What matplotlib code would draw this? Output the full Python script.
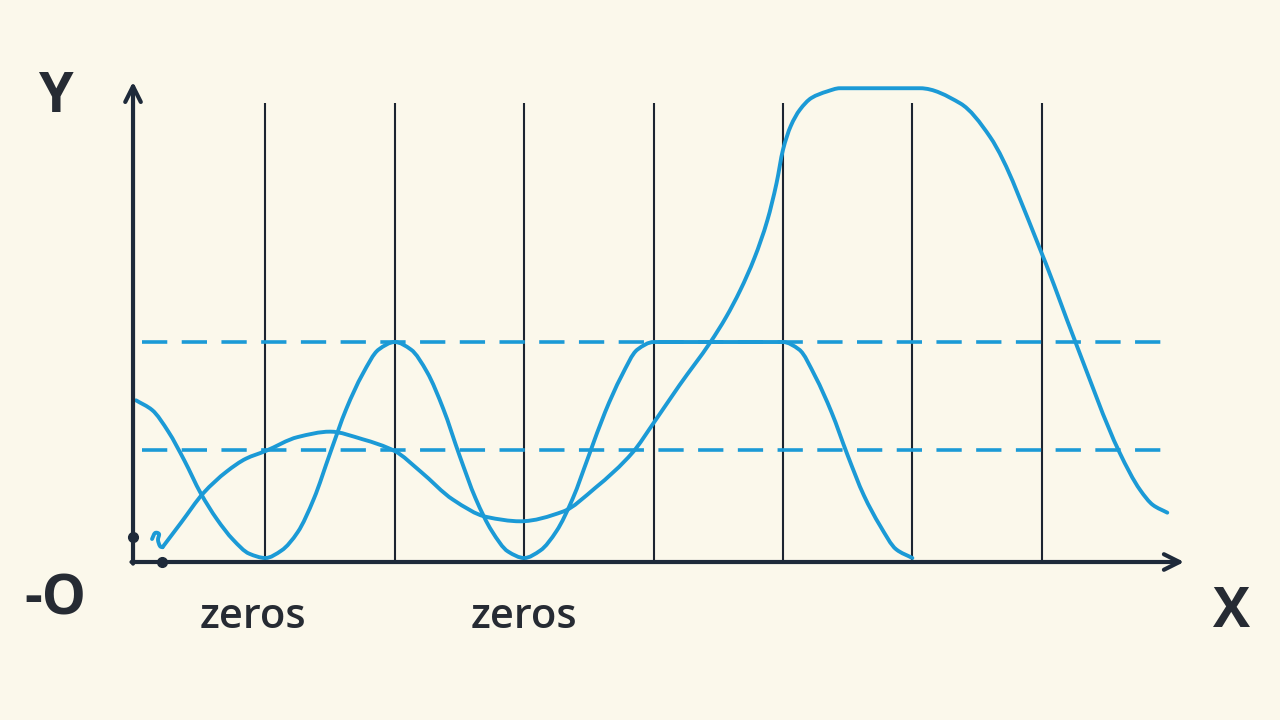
import numpy as np
import matplotlib.pyplot as plt
from matplotlib.path import Path
from matplotlib.patches import PathPatch

# -----------------------------
# Data (x: one unit per vertical guide, y: one unit per dashed level)
# -----------------------------
GUIDE_X = [1, 2, 3, 4, 5, 6, 7]
LEVELS = [1.0, 2.0]

# curve that touches zero at the guides
curve_a_x = [0.0, 0.125, 0.25, 0.375, 0.5, 0.625, 0.75, 0.875, 1.0,
             1.125, 1.25, 1.375, 1.5, 1.625, 1.75, 1.875, 2.0,
             2.125, 2.25, 2.375, 2.5, 2.625, 2.75, 2.875, 3.0,
             3.125, 3.25, 3.375, 3.5, 3.625, 3.75, 3.875, 4.0,
             4.5, 5.0,
             5.125, 5.25, 5.375, 5.5, 5.625, 5.75, 5.875, 6.0]
curve_a_y = [1.46, 1.37, 1.17, 0.90, 0.60, 0.36, 0.17, 0.04, 0.0,
             0.07, 0.24, 0.55, 0.97, 1.38, 1.70, 1.93, 2.0,
             1.93, 1.72, 1.38, 0.95, 0.55, 0.25, 0.06, 0.0,
             0.07, 0.25, 0.55, 0.95, 1.35, 1.68, 1.93, 2.0,
             2.0, 2.0,
             1.93, 1.68, 1.35, 0.95, 0.58, 0.30, 0.08, 0.0]

# little hook where the wide curve starts
hook_x = [0.124, 0.147, 0.178, 0.170, 0.185, 0.205]
hook_y = [0.176, 0.231, 0.222, 0.167, 0.111, 0.100]

# wide curve with the high plateau
curve_b_x = [0.205, 0.35, 0.52, 0.70, 0.85, 1.0,
             1.25, 1.5, 1.75, 2.0, 2.2, 2.45, 2.71, 2.97, 3.3, 3.55, 3.84,
             4.0, 4.2, 4.44, 4.56, 4.67, 4.78, 4.88, 4.95, 5.0, 5.06, 5.13,
             5.22, 5.34, 5.44,
             6.06, 6.37, 6.6, 7.0, 7.26, 7.6, 7.76, 7.86, 7.97]
curve_b_y = [0.100, 0.33, 0.60, 0.80, 0.92, 0.99,
             1.12, 1.17, 1.10, 0.99, 0.80, 0.54, 0.38, 0.34, 0.43, 0.65, 0.98,
             1.25, 1.60, 2.0, 2.23, 2.48, 2.78, 3.13, 3.47, 3.78, 4.0, 4.15,
             4.26, 4.32, 4.35,
             4.35, 4.21, 3.90, 2.82, 2.0, 0.98, 0.63, 0.49, 0.42]

ZERO_LABELS = ["zeros", "zeros"]
ZERO_LABEL_X = [0.904, 2.998]

# -----------------------------
# Style
# -----------------------------
BG = "#fbf8eb"
DARK = "#1e2a3a"
BLUE = "#1b9ad6"
TEXT = "#262b33"


def pchip_path(xs, ys):
    # monotone cubic through y(x), drawn as bezier segments
    x = np.asarray(xs, float)
    y = np.asarray(ys, float)
    h = np.diff(x)
    d = np.diff(y) / h
    m = np.zeros_like(y)
    m[0], m[-1] = d[0], d[-1]
    for k in range(1, len(x) - 1):
        if d[k - 1] * d[k] <= 0:
            m[k] = 0.0
        else:
            w1 = 2 * h[k] + h[k - 1]
            w2 = h[k] + 2 * h[k - 1]
            m[k] = (w1 + w2) / (w1 / d[k - 1] + w2 / d[k])
    verts = [(x[0], y[0])]
    codes = [Path.MOVETO]
    for k in range(len(x) - 1):
        verts += [(x[k] + h[k] / 3, y[k] + m[k] * h[k] / 3),
                  (x[k + 1] - h[k] / 3, y[k + 1] - m[k + 1] * h[k] / 3),
                  (x[k + 1], y[k + 1])]
        codes += [Path.CURVE4] * 3
    return Path(verts, codes)


def catmull_path(xs, ys):
    pts = np.column_stack([xs, ys]).astype(float)
    n = len(pts)
    verts = [pts[0]]
    codes = [Path.MOVETO]
    for i in range(n - 1):
        p0 = pts[i - 1] if i > 0 else pts[i]
        p1, p2 = pts[i], pts[i + 1]
        p3 = pts[i + 2] if i + 2 < n else pts[i + 1]
        verts += [p1 + (p2 - p0) / 6, p2 - (p3 - p1) / 6, p2]
        codes += [Path.CURVE4] * 3
    return Path(verts, codes)


fig = plt.figure(figsize=(12.8, 7.2), dpi=100, facecolor=BG)
ax = fig.add_axes([0, 0, 1, 1])
ax.set_facecolor(BG)
ax.set_xlim(-1.051, 8.841)
ax.set_ylim(-1.5, 5.167)
ax.axis("off")

AXIS_Y = -0.037
AXIS_X = -0.023

# vertical guides
ax.vlines(GUIDE_X, AXIS_Y, 4.21, colors="#1c2430", linewidth=1.5, zorder=2)

# dashed levels
for lv in LEVELS:
    ln, = ax.plot([0.05, 7.95], [lv, lv], color=BLUE, linewidth=2.6, zorder=3)
    ln.set_dashes((7, 4))

# curves
curve_style = dict(facecolor="none", edgecolor=BLUE, linewidth=2.8,
                   capstyle="round", joinstyle="round", zorder=4)
ax.add_patch(PathPatch(pchip_path(curve_a_x, curve_a_y), **curve_style))
ax.add_patch(PathPatch(pchip_path(curve_b_x, curve_b_y), **curve_style))
ax.add_patch(PathPatch(catmull_path(hook_x, hook_y), **curve_style))

# axes with arrows
arrow = dict(arrowstyle="->", lw=3, color=DARK, mutation_scale=28,
             shrinkA=0, shrinkB=0)
ax.annotate("", xy=(8.1, AXIS_Y), xytext=(AXIS_X - 0.012, AXIS_Y),
            arrowprops=arrow, zorder=5)
ax.annotate("", xy=(AXIS_X, 4.41), xytext=(AXIS_X, AXIS_Y - 0.015),
            arrowprops=arrow, zorder=5)

# small markers on the axes
ax.plot([AXIS_X], [0.195], marker="o", markersize=7, color=DARK, zorder=6)
ax.plot([0.2], [AXIS_Y], marker="o", markersize=7, color=DARK, zorder=6)

# labels
big = dict(fontsize=40, color=TEXT, family=["Open Sans", "DejaVu Sans"],
           fontweight="bold", ha="center", va="center")
ax.text(-0.626, 4.26, "Y", **big)
ax.text(-0.626, -0.39, "-O", **big)
ax.text(8.47, -0.5, "X", **big)

for lbl, xpos in zip(ZERO_LABELS, ZERO_LABEL_X):
    ax.text(xpos, -0.546, lbl, fontsize=30, color=TEXT,
            family=["Open Sans", "DejaVu Sans"], fontweight="semibold",
            ha="center", va="center")

fig.savefig("out.png", dpi=100, facecolor=BG)
